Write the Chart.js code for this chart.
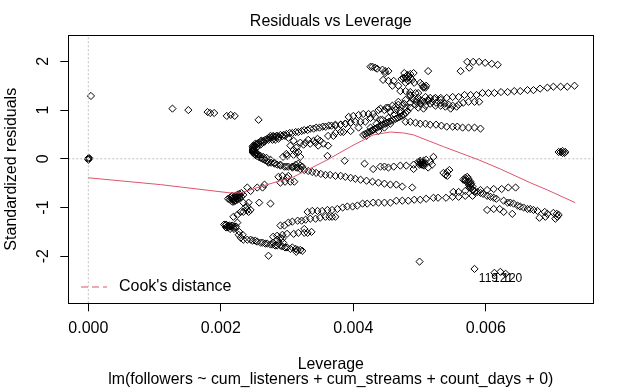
<!DOCTYPE html>
<html lang="en">
<head>
    <meta charset="UTF-8">
    <title>Residuals vs Leverage</title>
    <style>
        body { margin: 0; background: white; }
        canvas { display: block; }
    </style>
</head>
<body>
<canvas id="chart" width="629" height="389"></canvas>

<script src="https://cdn.jsdelivr.net/npm/chart.js"></script>
<script>
    const xTicks = [0, 0.002, 0.004, 0.006];
    const yTicks = [-2, -1, 0, 1, 2];

    // Points, one pair of arrays per visible band
    const originX = [0, 0, 0.00001, 0.00001, 0, 0.00004];
    const originY = [0.01, -0.01, 0, 0.02, -0.02, 1.29];
    const sparseX = [0.00127, 0.00151, 0.0018, 0.00184, 0.0019, 0.00209, 0.00215, 0.00221, 0.00257];
    const sparseY = [1.03, 1.00, 0.96, 0.94, 0.94, 0.88, 0.90, 0.88, 0.80];

    const armUpperX = [0.00248, 0.00248, 0.00249, 0.00251, 0.00252, 0.00254, 0.00255, 0.00257, 0.0026, 0.00261, 0.00264, 0.00267, 0.0027, 0.00273, 0.00276, 0.00279, 0.00282, 0.00285, 0.0029, 0.00295, 0.00299, 0.00304, 0.00308, 0.00313, 0.00317, 0.00322, 0.00326, 0.00331, 0.00335, 0.0034, 0.00344, 0.00349, 0.00354, 0.00358, 0.00363, 0.00367, 0.00373, 0.00381, 0.00388, 0.00396];
    const armUpperY = [0.18, 0.21, 0.23, 0.25, 0.27, 0.29, 0.31, 0.33, 0.35, 0.37, 0.37, 0.39, 0.41, 0.43, 0.43, 0.45, 0.45, 0.47, 0.49, 0.49, 0.51, 0.53, 0.53, 0.55, 0.55, 0.57, 0.59, 0.59, 0.62, 0.62, 0.64, 0.64, 0.66, 0.66, 0.68, 0.68, 0.68, 0.70, 0.72, 0.74];
    const armLowerX = [0.00248, 0.00248, 0.00249, 0.00251, 0.00252, 0.00254, 0.00257, 0.0026, 0.00263, 0.00266, 0.00269, 0.00272, 0.00276, 0.00281, 0.00285, 0.0029, 0.00296, 0.00302, 0.00308, 0.00314, 0.0032, 0.00326, 0.00332, 0.00338, 0.00344, 0.00351, 0.00358, 0.00365, 0.00373, 0.00381, 0.00388, 0.00396, 0.00403, 0.00411, 0.0042, 0.00429, 0.00438, 0.00447, 0.00456, 0.00465, 0.00474, 0.00489];
    const armLowerY = [0.16, 0.14, 0.12, 0.10, 0.08, 0.06, 0.04, 0.02, 0, -0.02, -0.04, -0.06, -0.08, -0.10, -0.12, -0.14, -0.16, -0.16, -0.18, -0.18, -0.21, -0.23, -0.25, -0.27, -0.29, -0.31, -0.33, -0.33, -0.35, -0.35, -0.37, -0.39, -0.41, -0.43, -0.45, -0.47, -0.49, -0.51, -0.53, -0.53, -0.57, -0.59];
    const vertexX = [0.00248, 0.00249, 0.00251, 0.00249, 0.00252, 0.00254, 0.00252, 0.00254, 0.00257, 0.0026, 0.00257, 0.0026, 0.00263, 0.00266, 0.00264, 0.00269, 0.00275, 0.00272, 0.00278, 0.00282, 0.00287, 0.00272, 0.00281, 0.0029, 0.00299, 0.00308];
    const vertexY = [0.25, 0.18, 0.18, 0.27, 0.31, 0.23, 0.12, 0.12, 0.08, 0.06, 0.29, 0.29, 0.33, 0.35, 0.04, 0.02, -0.02, 0.39, 0.39, 0.39, 0.41, -0.08, -0.08, -0.12, -0.16, -0.16];

    const innerX = [0.0031, 0.00294, 0.003, 0.0031, 0.0031, 0.0032, 0.00325, 0.00332, 0.00346, 0.00347, 0.00355, 0.00362, 0.00362, 0.00361, 0.00305, 0.00314, 0.0032, 0.00328, 0.00335, 0.0034, 0.00343, 0.0035, 0.00317, 0.00313, 0.00299, 0.00279, 0.00284, 0.00288, 0.00293, 0.00297, 0.00302, 0.00275];
    const innerY = [0.37, 0.04, 0.06, 0.18, 0.08, 0.04, 0.29, 0.39, 0.41, 0.27, 0.31, 0.47, 0.27, 0.06, 0.27, 0.23, 0.33, 0.33, 0.31, 0.37, 0.33, 0.37, 0.14, 0.14, 0.10, 0.47, 0.47, 0.45, 0.47, 0.47, 0.43, 0.47];

    const rowAX = [0.00393, 0.004, 0.00408, 0.00415, 0.00423, 0.0043];
    const rowAY = [0.86, 0.88, 0.90, 0.92, 0.92, 0.92];
    const rowBX = [0.00373, 0.00381, 0.00388, 0.00396, 0.00403, 0.00411, 0.00418];
    const rowBY = [0.70, 0.70, 0.72, 0.74, 0.76, 0.76, 0.76];
    const rowCX = [0.0037, 0.00381, 0.00385, 0.00396, 0.00408, 0.00373];
    const rowCY = [0.47, 0.55, 0.55, 0.57, 0.64, 0.53];

    const fanAX = [0.00441, 0.0045, 0.00459, 0.00468, 0.00477, 0.00486, 0.00495, 0.00504, 0.00513, 0.00522, 0.00532, 0.00541, 0.0055, 0.00559, 0.00568, 0.00577, 0.00586, 0.00595, 0.00604, 0.00613, 0.00623, 0.00633, 0.00643, 0.00652, 0.00663, 0.00672, 0.00682, 0.00693, 0.00702, 0.00713, 0.00723, 0.00734];
    const fanAY = [1.03, 1.05, 1.09, 1.11, 1.13, 1.15, 1.17, 1.19, 1.21, 1.23, 1.25, 1.25, 1.27, 1.27, 1.31, 1.31, 1.31, 1.35, 1.35, 1.35, 1.37, 1.37, 1.39, 1.39, 1.41, 1.41, 1.44, 1.46, 1.48, 1.48, 1.48, 1.50];
    const fanBX = [0.00489, 0.00495, 0.00501, 0.00507, 0.00513, 0.00519, 0.00525, 0.00532, 0.00538, 0.00544, 0.0055, 0.00556, 0.00501, 0.00509, 0.00516, 0.00524, 0.00532, 0.00539, 0.00547, 0.00494, 0.00498, 0.00506, 0.00559, 0.00566, 0.00574, 0.00583, 0.0059];
    const fanBY = [1.23, 1.21, 1.19, 1.17, 1.19, 1.17, 1.15, 1.15, 1.13, 1.11, 1.09, 1.07, 1.13, 1.09, 1.13, 1.09, 1.09, 1.07, 1.03, 1.11, 1.05, 1.03, 1.11, 1.15, 1.17, 1.17, 1.17];
    const fanCX = [0.00479, 0.00486, 0.00494, 0.00501, 0.00509, 0.00516, 0.00525, 0.00533, 0.00541, 0.0055, 0.00557, 0.00565, 0.00574, 0.00583, 0.00592];
    const fanCY = [0.76, 0.76, 0.74, 0.72, 0.72, 0.70, 0.70, 0.68, 0.66, 0.66, 0.66, 0.64, 0.64, 0.64, 0.62];
    const fanDX = [0.00486, 0.00498, 0.00509, 0.00516, 0.00524, 0.00532, 0.00479, 0.00468, 0.00438, 0.00447, 0.00456, 0.00464, 0.00471, 0.00479, 0.00486, 0.00453, 0.00464, 0.00474];
    const fanDY = [1.31, 1.25, 1.27, 1.25, 1.25, 1.21, 1.21, 1.17, 1.00, 1.00, 0.96, 1.00, 0.98, 1.05, 1.05, 1.05, 1.07, 1.09];

    const diagX = [0.00415, 0.00418, 0.00421, 0.00424, 0.00427, 0.0043, 0.00433, 0.00436, 0.00439, 0.00442, 0.00445, 0.00448, 0.00451, 0.00454, 0.00457, 0.0046, 0.00464, 0.00467, 0.0047, 0.00473, 0.00476, 0.00479, 0.00482, 0.00426, 0.00435, 0.00444, 0.00453, 0.00462, 0.00471, 0.0042, 0.00429, 0.00438, 0.00447, 0.00456, 0.00426, 0.00433, 0.00441];
    const diagY = [0.49, 0.51, 0.53, 0.55, 0.57, 0.59, 0.62, 0.64, 0.66, 0.68, 0.70, 0.72, 0.74, 0.76, 0.78, 0.80, 0.82, 0.84, 0.86, 0.88, 0.90, 0.94, 0.98, 0.64, 0.72, 0.80, 0.84, 0.92, 0.94, 0.47, 0.59, 0.57, 0.64, 0.72, 0.84, 0.86, 0.80];

    const topX = [0.00426, 0.00429, 0.00433, 0.00436, 0.00444, 0.00448, 0.00453, 0.00448, 0.00445, 0.00453, 0.00461, 0.00459, 0.00468, 0.00471, 0.00479, 0.00486, 0.00486, 0.00494, 0.00498];
    const topY = [1.89, 1.89, 1.87, 1.85, 1.83, 1.80, 1.80, 1.76, 1.62, 1.60, 1.60, 1.50, 1.50, 1.39, 1.39, 1.37, 1.29, 1.35, 1.35];
    const topBlobX = [0.00473, 0.00476, 0.00479, 0.00482, 0.00486, 0.00491, 0.00477, 0.00479, 0.00483, 0.00489, 0.00492, 0.00483, 0.00486, 0.0048, 0.00501, 0.00504, 0.00506, 0.00509, 0.0051, 0.00506];
    const topBlobY = [1.64, 1.66, 1.68, 1.72, 1.74, 1.76, 1.76, 1.56, 1.60, 1.62, 1.56, 1.68, 1.66, 1.64, 1.56, 1.52, 1.48, 1.46, 1.50, 1.46];
    const farTopX = [0.00513, 0.00562, 0.00575, 0.00572, 0.00581, 0.0059, 0.00599, 0.00609, 0.00618];
    const farTopY = [1.80, 1.80, 1.87, 1.99, 1.99, 1.99, 1.97, 1.95, 1.93];
    const farRightX = [0.0071, 0.00713, 0.00716, 0.00719, 0.0072, 0.00716];
    const farRightY = [0.14, 0.14, 0.12, 0.12, 0.14, 0.16];

    const zeroRowX = [0.00387, 0.00417, 0.0043, 0.00441, 0.00447, 0.00453, 0.00461, 0.00471, 0.0048, 0.00491, 0.00491, 0.00513, 0.00519, 0.00521, 0.00516, 0.00498, 0.00501, 0.00504, 0.00507, 0.00504, 0.0051, 0.00501, 0.00507, 0.00542, 0.00536, 0.00542, 0.00545, 0.00539, 0.00501, 0.00504, 0.00503, 0.00506, 0.005, 0.00506];
    const zeroRowY = [-0.04, -0.10, -0.21, -0.16, -0.16, -0.18, -0.16, -0.14, -0.14, -0.12, -0.21, -0.18, -0.12, 0.04, -0.06, -0.06, -0.10, -0.12, -0.08, -0.06, -0.02, -0.04, -0.14, -0.27, -0.29, -0.35, -0.23, -0.33, -0.06, -0.08, -0.12, -0.04, -0.12, -0.12];

    const steepX = [0.00566, 0.00569, 0.00572, 0.00574, 0.00577, 0.00578, 0.00575, 0.00575, 0.0058, 0.00583, 0.00587, 0.00592, 0.00596, 0.00602, 0.00607, 0.00612, 0.00616, 0.00592, 0.00602, 0.00612, 0.00624, 0.00634, 0.00645, 0.00569, 0.00574, 0.00577, 0.00577, 0.0058, 0.00574, 0.00581, 0.00569];
    const steepY = [-0.43, -0.39, -0.37, -0.41, -0.47, -0.51, -0.55, -0.59, -0.64, -0.68, -0.68, -0.70, -0.72, -0.76, -0.78, -0.80, -0.82, -0.64, -0.64, -0.62, -0.62, -0.59, -0.59, -0.43, -0.47, -0.53, -0.59, -0.57, -0.51, -0.64, -0.45];
    const tailX = [0.00627, 0.00633, 0.00637, 0.00642, 0.00648, 0.00652, 0.00657, 0.00663, 0.00667, 0.00672, 0.00678, 0.00689, 0.00693, 0.00702, 0.00707, 0.0071, 0.00708, 0.00705, 0.0069, 0.00681, 0.00602, 0.00612, 0.00621, 0.00627, 0.0064];
    const tailY = [-0.86, -0.90, -0.90, -0.92, -0.96, -0.98, -1.00, -1.03, -1.03, -1.05, -1.07, -1.09, -1.13, -1.11, -1.13, -1.15, -1.19, -1.23, -1.19, -1.21, -1.05, -1.03, -1.03, -1.09, -1.13];
    const lowestX = [0.005, 0.00583, 0.00613, 0.00622, 0.0063];
    const lowestY = [-2.11, -2.26, -2.34, -2.32, -2.36];

    const arcX = [0.0029, 0.00296, 0.00302, 0.00308, 0.00316, 0.00322, 0.00328, 0.00335, 0.00343, 0.0035, 0.00358, 0.00364, 0.00368, 0.00373, 0.00331, 0.00338, 0.00346, 0.00353, 0.00361, 0.00368, 0.00376, 0.00384, 0.00391, 0.00399, 0.00406, 0.00414, 0.00421, 0.0043, 0.00438, 0.00447, 0.00456, 0.00465, 0.00474, 0.00483, 0.00492, 0.00501, 0.0051, 0.00521, 0.00528, 0.0054, 0.0055, 0.00559, 0.00569, 0.0058, 0.00551, 0.00559, 0.00569];
    const arcY = [-1.37, -1.37, -1.31, -1.29, -1.27, -1.27, -1.25, -1.23, -1.23, -1.21, -1.19, -1.19, -1.19, -1.19, -1.09, -1.07, -1.07, -1.07, -1.05, -1.05, -1.03, -1.00, -0.98, -0.98, -0.96, -0.92, -0.92, -0.90, -0.90, -0.90, -0.90, -0.86, -0.86, -0.86, -0.84, -0.84, -0.82, -0.80, -0.80, -0.80, -0.78, -0.78, -0.76, -0.76, -0.68, -0.68, -0.66];
    const lowGroupX = [0.00279, 0.00285, 0.00293, 0.003, 0.0031, 0.00317, 0.00326, 0.00331, 0.00337, 0.00326, 0.00279, 0.00285, 0.0029, 0.00287, 0.00294, 0.00293];
    const lowGroupY = [-1.60, -1.58, -1.56, -1.54, -1.54, -1.52, -1.52, -1.52, -1.50, -1.44, -1.72, -1.66, -1.62, -1.74, -1.72, -1.64];
    const bottomX = [0.00207, 0.0021, 0.00213, 0.00216, 0.00219, 0.00211, 0.00214, 0.00222, 0.00223, 0.00225, 0.00228, 0.00233, 0.00227, 0.0023, 0.00234, 0.0024, 0.00248, 0.00255, 0.00263, 0.0027, 0.00278, 0.00285, 0.00293, 0.003, 0.00308, 0.00316, 0.00323, 0.00314, 0.00272, 0.00245, 0.00252, 0.0026, 0.00267, 0.00275, 0.00282, 0.0029, 0.00297, 0.00305, 0.00313, 0.0032, 0.00205, 0.00208, 0.00211, 0.00214, 0.00217, 0.0022, 0.00208];
    const bottomY = [-1.37, -1.39, -1.37, -1.39, -1.41, -1.41, -1.44, -1.41, -1.39, -1.31, -1.50, -1.56, -1.56, -1.62, -1.66, -1.66, -1.68, -1.70, -1.72, -1.74, -1.76, -1.78, -1.80, -1.82, -1.82, -1.87, -1.89, -1.91, -1.99, -1.66, -1.68, -1.72, -1.74, -1.76, -1.78, -1.78, -1.82, -1.85, -1.85, -1.87, -1.35, -1.41, -1.37, -1.39, -1.37, -1.44, -1.35];
    const leftBlobX = [0.00217, 0.0022, 0.00222, 0.00225, 0.00228, 0.00231, 0.00216, 0.00219, 0.00222, 0.00225, 0.00228, 0.00231, 0.00234, 0.00214, 0.00217, 0.0024, 0.00245, 0.00255, 0.00263, 0.00266, 0.00242, 0.00234, 0.00258, 0.00275, 0.00234, 0.0024, 0.00245, 0.00237, 0.00242, 0.0023, 0.00225, 0.00219, 0.0024, 0.00217, 0.0022, 0.00222, 0.00225, 0.00228, 0.0022, 0.00222, 0.00225, 0.00214, 0.00211];
    const leftBlobY = [-0.82, -0.78, -0.76, -0.74, -0.72, -0.70, -0.78, -0.84, -0.86, -0.82, -0.80, -0.78, -0.74, -0.80, -0.88, -0.59, -0.66, -0.59, -0.59, -0.53, -0.90, -0.90, -0.90, -0.92, -1.09, -1.05, -1.05, -1.00, -1.09, -1.09, -1.15, -1.19, -0.98, -0.76, -0.82, -0.80, -0.78, -0.76, -0.88, -0.84, -0.84, -0.84, -0.82];
    const midX = [0.00287, 0.0029, 0.00297, 0.00305, 0.00311, 0.003, 0.00293, 0.00302, 0.00313, 0.00316, 0.0032, 0.00317, 0.00323, 0.0031];
    const midY = [-0.37, -0.49, -0.47, -0.47, -0.47, -0.39, -0.35, -0.35, -0.12, -0.18, -0.14, -0.10, -0.16, -0.16];

    const groupsX = [originX, sparseX, armUpperX, armLowerX, vertexX, innerX, rowAX, rowBX, rowCX, fanAX, fanBX, fanCX, fanDX, diagX, topX, topBlobX, farTopX, farRightX, zeroRowX, steepX, tailX, lowestX, arcX, lowGroupX, bottomX, leftBlobX, midX];
    const groupsY = [originY, sparseY, armUpperY, armLowerY, vertexY, innerY, rowAY, rowBY, rowCY, fanAY, fanBY, fanCY, fanDY, diagY, topY, topBlobY, farTopY, farRightY, zeroRowY, steepY, tailY, lowestY, arcY, lowGroupY, bottomY, leftBlobY, midY];

    const smoothX = [0, 0.00109, 0.00214, 0.0023, 0.0026, 0.0031, 0.00361, 0.00396, 0.0043, 0.00456, 0.00476, 0.00491, 0.00536, 0.00589, 0.00622, 0.00667, 0.00693, 0.00735];
    const smoothY = [-0.39, -0.53, -0.70, -0.70, -0.57, -0.37, -0.02, 0.25, 0.49, 0.55, 0.53, 0.49, 0.25, -0.02, -0.21, -0.49, -0.64, -0.90];

    const idLabels = ['119', '121', '120'];
    const idX = [0.00604, 0.00626, 0.0064];
    const idY = [-2.46, -2.46, -2.46];

    const xRange = [-0.000302, 0.007623];
    const yRange = [-2.966, 2.537];

    const points = [];
    groupsX.forEach((xs, g) => {
        xs.forEach((x, i) => points.push({x: x, y: groupsY[g][i]}));
    });

    const FONT = 'Liberation Sans';
    const INK = '#000000';
    const RED = '#DF536B';
    const GUIDE = '#BEBEBE';

    // box round the plot, point ids and the legend inside the plot
    const extras = {
        id: 'extras',
        afterDraw(chart) {
            const ctx = chart.ctx;
            const area = chart.chartArea;
            const xs = chart.scales.x;
            const ys = chart.scales.y;
            const left = Math.floor(area.left) + 0.5;
            const top = Math.floor(area.top) + 0.5;
            ctx.save();
            ctx.strokeStyle = INK;
            ctx.lineWidth = 1;
            ctx.strokeRect(left, top, Math.floor(area.right) + 0.5 - left, Math.floor(area.bottom) + 0.5 - top);

            ctx.fillStyle = INK;
            ctx.font = '12px "' + FONT + '"';
            ctx.textAlign = 'center';
            ctx.textBaseline = 'middle';
            idLabels.forEach((label, i) => {
                ctx.fillText(label, xs.getPixelForValue(idX[i]), ys.getPixelForValue(idY[i]));
            });

            ctx.strokeStyle = RED;
            ctx.lineWidth = 1.2;
            ctx.setLineDash([7, 4]);
            ctx.beginPath();
            ctx.moveTo(81, 287);
            ctx.lineTo(107, 287);
            ctx.stroke();
            ctx.setLineDash([]);
            ctx.font = '16px "' + FONT + '"';
            ctx.textAlign = 'left';
            ctx.fillText("Cook's distance", 119, 287);
            ctx.restore();
        }
    };

    new Chart(document.getElementById('chart'), {
        type: 'scatter',
        data: {
            datasets: [
                {
                    type: 'line',
                    data: smoothX.map((x, i) => ({x: x, y: smoothY[i]})),
                    borderColor: RED,
                    borderWidth: 1,
                    pointRadius: 0,
                    fill: false
                },
                {
                    type: 'line',
                    data: xRange.map(x => ({x: x, y: 0})),
                    borderColor: GUIDE,
                    borderWidth: 1,
                    borderDash: [2, 2],
                    pointRadius: 0
                },
                {
                    type: 'line',
                    data: yRange.map(y => ({x: 0, y: y})),
                    borderColor: GUIDE,
                    borderWidth: 1,
                    borderDash: [2, 2],
                    pointRadius: 0
                },
                {
                    data: points,
                    pointStyle: 'rectRot',
                    pointRadius: 3.6,
                    pointBorderWidth: 1,
                    pointBorderColor: INK,
                    pointBackgroundColor: 'rgba(0,0,0,0)'
                }
            ]
        },
        options: {
            responsive: false,
            animation: false,
            layout: { padding: { right: 35.7 } },
            plugins: {
                legend: { display: false },
                tooltip: { enabled: false },
                title: {
                    display: true,
                    fullSize: false,
                    text: 'Residuals vs Leverage',
                    color: INK,
                    font: { family: FONT, size: 16, weight: 'normal' },
                    padding: { top: 12, bottom: 4 }
                }
            },
            scales: {
                x: {
                    type: 'linear',
                    min: xRange[0],
                    max: xRange[1],
                    afterBuildTicks: axis => { axis.ticks = xTicks.map(v => ({value: v})); },
                    afterFit: axis => { axis.height = 85.7; },
                    border: { color: INK },
                    grid: { drawOnChartArea: false, color: INK, tickLength: 8 },
                    ticks: {
                        color: INK,
                        font: { family: FONT, size: 16 },
                        padding: 8,
                        maxRotation: 0,
                        autoSkip: false,
                        callback: v => v.toFixed(3)
                    },
                    title: {
                        display: true,
                        text: ['Leverage', 'lm(followers ~ cum_listeners + cum_streams + count_days + 0)'],
                        color: INK,
                        font: { family: FONT, size: 15.87, lineHeight: 1 },
                        padding: { top: 0, bottom: 1 }
                    }
                },
                y: {
                    type: 'linear',
                    min: yRange[0],
                    max: yRange[1],
                    afterBuildTicks: axis => { axis.ticks = yTicks.map(v => ({value: v})); },
                    afterFit: axis => { axis.width = 68.3; },
                    border: { color: INK },
                    grid: { drawOnChartArea: false, color: INK, tickLength: 8 },
                    ticks: {
                        color: INK,
                        font: { family: FONT, size: 16 },
                        padding: 10,
                        minRotation: 90,
                        maxRotation: 90,
                        crossAlign: 'center',
                        autoSkip: false,
                        callback: v => String(v)
                    },
                    title: {
                        display: true,
                        text: 'Standardized residuals',
                        color: INK,
                        font: { family: FONT, size: 16, lineHeight: 1 },
                        padding: { top: 4, bottom: 0 }
                    }
                }
            }
        },
        plugins: [extras]
    });
</script>
</body>
</html>
